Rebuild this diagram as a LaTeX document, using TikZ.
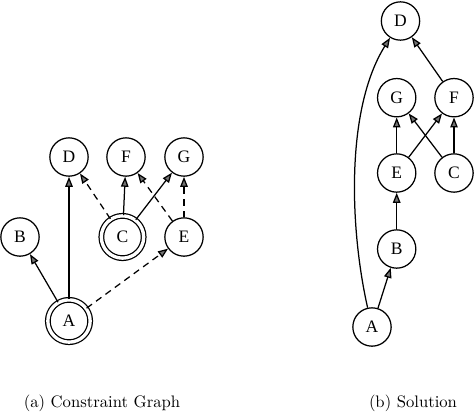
\documentclass[tikz,border=0pt]{standalone}
\usepackage{fontspec}
\newfontfamily\nodefont{Liberation Serif}
\usetikzlibrary{arrows.meta}
\begin{document}
\begin{tikzpicture}[x=0.6pt,y=-0.6pt,
  vtx/.style={circle,draw,line width=0.75pt,minimum size=23pt,inner sep=0pt,font=\nodefont\fontsize{10.5}{12}\selectfont},
  dvtx/.style={vtx,double,double distance=2pt,minimum size=25.4pt},
  edge/.style={line width=0.75pt,-{Triangle[length=6pt,width=4.5pt,fill=black!55]}},
  dedge/.style={edge,dash pattern=on 4pt off 3pt},
  captext/.style={font=\fontsize{10}{12}\selectfont}]
\useasboundingbox (0,0) rectangle (474,417);
% (a)
\node[vtx] (aD) at (69,157) {D};
\node[vtx] (aF) at (126,157) {F};
\node[vtx] (aG) at (184,157) {G};
\node[vtx] (aB) at (20,237) {B};
\node[dvtx] (aC) at (122.5,237) {C};
\node[vtx] (aE) at (184,237) {E};
\node[dvtx] (aA) at (69,321) {A};
\draw[edge] (aA) -- (aB);
\draw[edge] (aA) -- (aD);
\draw[dedge] (aA) -- (aE);
\draw[dedge] (aC) -- (aD);
\draw[edge] (aC) -- (aF);
\draw[edge] (aC) -- (aG);
\draw[dedge] (aE) -- (aF);
\draw[dedge] (aE) -- (aG);
% (b)
\node[vtx] (bD) at (400.5,21) {D};
\node[vtx] (bG) at (396.7,97.7) {G};
\node[vtx] (bF) at (454,97.7) {F};
\node[vtx] (bE) at (396.7,173) {E};
\node[vtx] (bC) at (454,173) {C};
\node[vtx] (bB) at (396.7,249) {B};
\node[vtx] (bA) at (372,327) {A};
\draw[edge] (bA) .. controls (350,230) and (345,110) .. (bD);
\draw[edge] (bA) -- (bB);
\draw[edge] (bB) -- (bE);
\draw[edge] (bE) -- (bG);
\draw[edge] (bE) -- (bF);
\draw[edge] (bC) -- (bG);
\draw[edge] (bC) -- (bF);
\draw[edge] (bF) -- (bD);
% captions
\node[captext] (capa) at (102,403) {(a) Constraint Graph};
\node[captext] (capb) at (413,403) {(b) Solution};
\end{tikzpicture}
\end{document}
